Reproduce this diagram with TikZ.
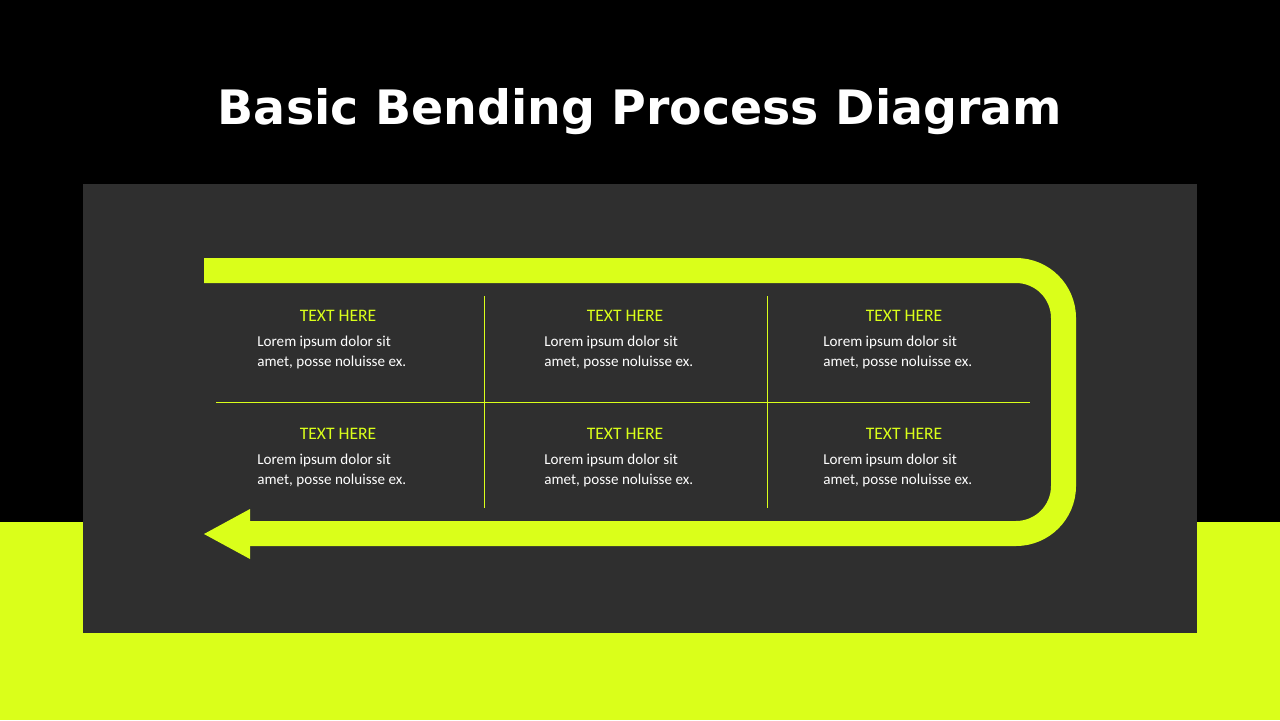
\documentclass[tikz,border=0pt]{standalone}
\usepackage{fontspec}
\setmainfont{Carlito}
\newfontfamily\titlefont{DejaVu Sans}
\definecolor{limeband}{RGB}{218,255,26}
\definecolor{panelgray}{RGB}{47,47,47}
\tikzset{
    head/.style={text=limeband, font=\fontsize{10}{12}\selectfont, inner sep=0pt},
    body/.style={text=white, font=\fontsize{8.6}{11}\selectfont, align=left, anchor=north west, inner sep=0pt},
    grid/.style={draw=limeband, line width=0.5pt},
    band/.style={draw=limeband, line width=0.5cm, rounded corners=0.95cm}
}
\begin{document}
\begin{tikzpicture}[x=0.02cm, y=-0.02cm]
    % Background
    \fill[black] (0,0) rectangle (1280,522);
    \fill[limeband] (0,522) rectangle (1280,720);
    \fill[panelgray] (83,184) rectangle (1197,633);
    \useasboundingbox (0,0) rectangle (1280,720);

    % Title
    \node[text=white, font=\titlefont\bfseries\fontsize{27}{32}\selectfont] (title) at (640,112) {Basic Bending Process Diagram};

    % Bent arrow
    \coordinate (start) at (204,270.5);
    \coordinate (turn1) at (1063.5,270.5);
    \coordinate (turn2) at (1063.5,533.5);
    \coordinate (finish) at (249,533.5);
    \draw[band] (start) -- (turn1) -- (turn2) -- (finish);
    \fill[limeband] (204,534) -- (250,509) -- (250,559) -- cycle;

    % Grid
    \coordinate (hl) at (216,402);
    \coordinate (hr) at (1030,402);
    \draw[grid] (hl) -- (hr);
    \foreach \x/\n in {484/va, 767/vb} {
        \coordinate (\n top) at (\x,296);
        \coordinate (\n bot) at (\x,508);
        \draw[grid] (\n top) -- (\n bot);
    }

    % Cells
    \foreach \c/\xc/\xl in {1/338/257, 2/625/544, 3/904/823} {
        \foreach \r/\yh/\yb in {1/316/336, 2/434/454} {
            \node[head] (h\r\c) at (\xc,\yh) {TEXT HERE};
            \node[body] (b\r\c) at (\xl,\yb) {Lorem ipsum dolor sit\\amet, posse noluisse ex.};
        }
    }
\end{tikzpicture}
\end{document}
